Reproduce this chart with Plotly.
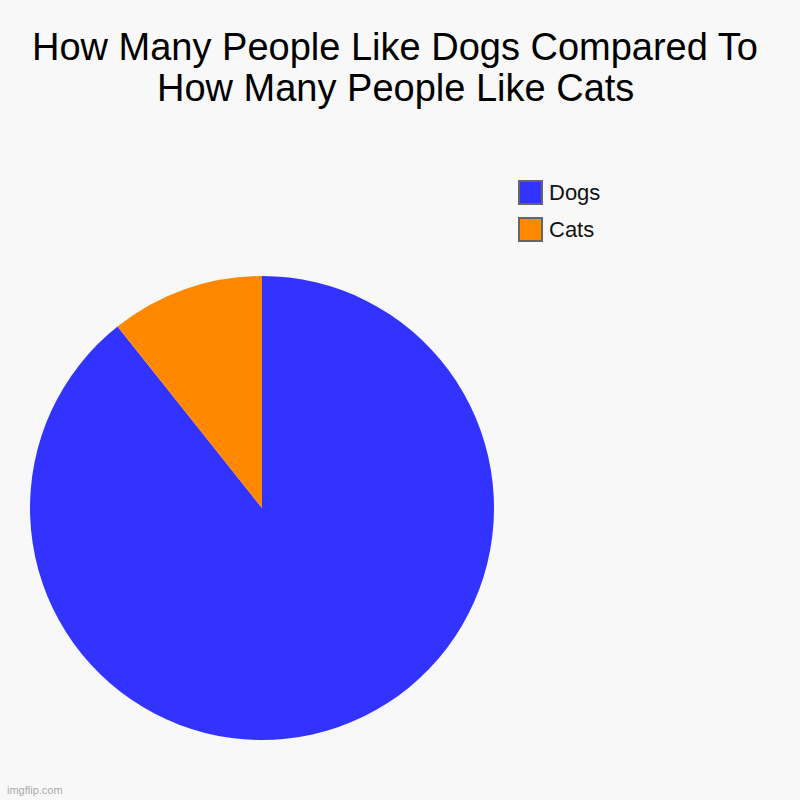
import plotly.graph_objects as go

labels = ["Dogs", "Cats"]
values = [89.3, 10.7]
colors = ["#3333FF", "#FF8800"]
title_lines = ["How Many People Like Dogs Compared To", "How Many People Like Cats"]

W, H = 800, 800


def px_x(x):
    return x / W


def px_y(y):
    return 1 - y / H


fig = go.Figure()
fig.add_trace(go.Pie(
    labels=labels,
    values=values,
    marker=dict(colors=colors, line=dict(width=0)),
    textinfo="none",
    sort=False,
    direction="clockwise",
    rotation=0,
    showlegend=False,
    domain=dict(x=[px_x(30), px_x(494)], y=[px_y(740), px_y(276)]),
))

# legend drawn by hand so the boxes match the reference size
shapes = []
annotations = []
for i, (lab, col) in enumerate(zip(labels, colors)):
    top = 181 + i * 37
    shapes.append(dict(
        type="rect", xref="paper", yref="paper",
        x0=px_x(519), x1=px_x(542), y0=px_y(top + 23), y1=px_y(top),
        fillcolor=col, line=dict(color="#666666", width=2),
    ))
    annotations.append(dict(
        text=lab, xref="paper", yref="paper",
        x=px_x(547), y=px_y(top + 12), xanchor="left", yanchor="middle",
        showarrow=False, font=dict(size=22, color="#111111"),
    ))

# title as two lines, the reference uses tight line spacing
for i, line in enumerate(title_lines):
    annotations.append(dict(
        text=line, xref="paper", yref="paper",
        x=px_x(395), y=px_y(47 + i * 41), xanchor="center", yanchor="middle",
        showarrow=False, font=dict(size=38, color="#000000"),
    ))

annotations.append(dict(
    text="imgflip.com", xref="paper", yref="paper",
    x=px_x(5), y=px_y(790), xanchor="left", yanchor="middle",
    showarrow=False, font=dict(size=11, color="#aaaaaa"),
))

fig.update_layout(
    width=W, height=H,
    margin=dict(l=0, r=0, t=0, b=0),
    paper_bgcolor="#F8F8F8",
    plot_bgcolor="#F8F8F8",
    font=dict(family="Liberation Sans, Arial, sans-serif"),
    shapes=shapes,
    annotations=annotations,
)

fig.write_html("out.html", config={"displayModeBar": False},
               post_script="document.body.style.margin='0';")
